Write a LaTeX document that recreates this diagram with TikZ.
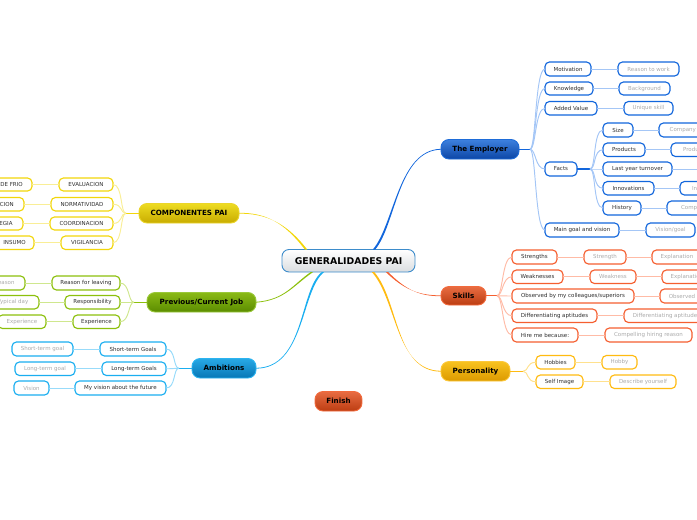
\documentclass[tikz,border=0pt]{standalone}
\usepackage{fontspec}
\setmainfont{DejaVu Sans}
\usetikzlibrary{calc}
\definecolor{empLine}{HTML}{1266DC}\definecolor{empLite}{HTML}{A4C6F6}\definecolor{empTop}{HTML}{3D80DE}\definecolor{empBot}{HTML}{0C46A6}\definecolor{empRim}{HTML}{1E6CD8}
\definecolor{sklLine}{HTML}{F55F30}\definecolor{sklLite}{HTML}{FFBBA6}\definecolor{sklTop}{HTML}{E86C42}\definecolor{sklBot}{HTML}{BC3D12}\definecolor{sklRim}{HTML}{F26A3C}
\definecolor{perLine}{HTML}{FFBB11}\definecolor{perLite}{HTML}{FFE18E}\definecolor{perTop}{HTML}{F8C21F}\definecolor{perBot}{HTML}{DC9A00}\definecolor{perRim}{HTML}{FCC83A}
\definecolor{comLine}{HTML}{F2D60A}\definecolor{comLite}{HTML}{F9EE96}\definecolor{comTop}{HTML}{EEDC22}\definecolor{comBot}{HTML}{C8AC00}\definecolor{comRim}{HTML}{EBD52A}
\definecolor{preLine}{HTML}{8CC00C}\definecolor{preLite}{HTML}{CFE78E}\definecolor{preTop}{HTML}{8ABA16}\definecolor{preBot}{HTML}{5B8C00}\definecolor{preRim}{HTML}{9AC83A}
\definecolor{ambLine}{HTML}{1AAEF0}\definecolor{ambLite}{HTML}{98DBFA}\definecolor{ambTop}{HTML}{28A9E6}\definecolor{ambBot}{HTML}{0777B6}\definecolor{ambRim}{HTML}{2CB4F0}
\definecolor{rootLine}{HTML}{3D8CCB}\definecolor{rootBot}{HTML}{DADDE0}
\definecolor{kidText}{HTML}{2E2E2E}\definecolor{noteText}{HTML}{ABABAB}
\tikzset{
  boxbase/.style={rectangle,inner sep=0pt,outer sep=0pt,align=center},
  leafbase/.style={boxbase,rounded corners=4.5pt,line width=1.15pt,fill=white,font=\fontsize{5.5}{6}\selectfont},
  kid/.style={leafbase,draw=#1Line,text=kidText},
  note/.style={leafbase,draw=#1Line,text=noteText},
  mainbox/.style={boxbase,rounded corners=8pt,line width=0.9pt,draw=#1Rim,top color=#1Top,bottom color=#1Bot,text=black,font=\fontsize{7.15}{8}\selectfont\bfseries},
  rootbox/.style={boxbase,rounded corners=7pt,line width=0.9pt,draw=rootLine,top color=white,bottom color=rootBot,text=black,font=\fontsize{9.3}{10}\selectfont\bfseries},
  stubline/.style={line width=1.2pt,draw=#1Line},
  liteline/.style={line width=0.95pt,draw=#1Lite},
}
\newcommand{\mapbox}[7]{%
  \pgfmathsetmacro\mbcx{(#3+#5)/2}\pgfmathsetmacro\mbcy{(#4+#6)/2}%
  \pgfmathsetmacro\mbw{#5-#3}\pgfmathsetmacro\mbh{#6-#4}%
  \node[#2,minimum width=\mbw pt,minimum height=\mbh pt] (#1) at (\mbcx,\mbcy) {#7};}
% fan from parent to children, to the right / left
\newcommand{\fanR}[4]{\draw[stubline=#1] (#2.east) -- ++(#4,0) coordinate (#2-j);
  \foreach \kidname in {#3} {\draw[liteline=#1] (#2-j) .. controls +(6,0) and +(-10,0) .. (\kidname.west);}}
\newcommand{\fanL}[4]{\draw[stubline=#1] (#2.west) -- ++(-#4,0) coordinate (#2-j);
  \foreach \kidname in {#3} {\draw[liteline=#1] (#2-j) .. controls +(-6,0) and +(10,0) .. (\kidname.east);}}
\newcommand{\linkR}[3]{\draw[liteline=#1] (#2.east) -- (#3.west);}
\newcommand{\linkL}[3]{\draw[liteline=#1] (#2.west) -- (#3.east);}
% tapered branch from the centre
\newcommand{\taper}[5]{\fill[#1Line] ($(#2)+(-1.2,0)$) .. controls ($(#3)+(-0.9,0)$) and ($(#4)+(0,-0.4)$) .. ($(#5)+(0,-0.4)$) -- ($(#5)+(0,0.4)$) .. controls ($(#4)+(0,0.4)$) and ($(#3)+(0.9,0)$) .. ($(#2)+(1.2,0)$) -- cycle;}
\begin{document}
\begin{tikzpicture}[x=1pt,y=-1pt]
\clip (0,0) rectangle (697,520);
% centre and main topics
\mapbox{root}{rootbox}{282}{249.5}{415}{272}{GENERALIDADES PAI}
\mapbox{emp}{mainbox=emp}{441}{139.5}{519}{159}{The Employer}
\mapbox{skl}{mainbox=skl}{441}{286.5}{486}{305}{Skills}
\mapbox{per}{mainbox=per}{441}{361.5}{510}{381}{Personality}
\mapbox{com}{mainbox=com}{139}{203.5}{239}{223}{COMPONENTES PAI}
\mapbox{pre}{mainbox=pre}{147}{292.5}{256}{312}{Previous/Current Job}
\mapbox{amb}{mainbox=amb}{192}{358.5}{256}{378}{Ambitions}
\mapbox{fin}{mainbox=skl}{315}{391.5}{362}{411}{Finish}
% The Employer
\mapbox{mot}{kid=emp}{545}{62}{591}{76}{Motivation}
\mapbox{motn}{note=emp}{618}{62}{679}{76}{Reason to work}
\mapbox{kno}{kid=emp}{545}{82}{593}{95}{Knowledge}
\mapbox{knon}{note=emp}{619}{82}{670}{95}{Background}
\mapbox{add}{kid=emp}{545}{101.5}{597}{115}{Added Value}
\mapbox{addn}{note=emp}{624}{101.5}{673}{115}{Unique skill}
\mapbox{fac}{kid=emp}{545}{162}{577}{176}{Facts}
\mapbox{gol}{kid=emp}{545}{223}{619}{237}{Main goal and vision}
\mapbox{goln}{note=emp}{646}{223}{695}{237}{Vision/goal}
\mapbox{siz}{kid=emp}{603}{123}{633}{137}{Size}
\mapbox{sizn}{note=emp}{659}{123}{719}{137}{Company size}
\mapbox{prd}{kid=emp}{603}{143}{645}{156.5}{Products}
\mapbox{prdn}{note=emp}{671}{143}{716}{156.5}{Product}
\mapbox{lst}{kid=emp}{603}{162}{672}{176}{Last year turnover}
\coordinate (lstn) at (710,169);
\mapbox{inn}{kid=emp}{603}{181.5}{654}{195}{Innovations}
\mapbox{innn}{note=emp}{680}{181.5}{736}{195}{Innovations}
\mapbox{his}{kid=emp}{603}{201}{641}{215}{History}
\mapbox{hisn}{note=emp}{667}{201}{742}{215}{Company history}
% Skills
\mapbox{str}{kid=skl}{512}{250}{557}{264}{Strengths}
\mapbox{strn}{note=skl}{584}{250}{626}{264}{Strength}
\mapbox{stre}{note=skl}{652}{250}{702}{264}{Explanation}
\mapbox{wea}{kid=skl}{512}{270}{563}{283.5}{Weaknesses}
\mapbox{wean}{note=skl}{590}{270}{636}{283.5}{Weakness}
\mapbox{weae}{note=skl}{662}{270}{712}{283.5}{Explanation}
\mapbox{obs}{kid=skl}{512}{289}{634}{303}{Observed by my colleagues/superiors}
\mapbox{obsn}{note=skl}{660}{289}{704}{303}{Observed}
\mapbox{dif}{kid=skl}{512}{309}{597}{322.5}{Differentiating aptitudes}
\mapbox{difn}{note=skl}{624}{309}{709}{322.5}{Differentiating aptitudes}
\mapbox{hir}{kid=skl}{512}{328}{578}{342}{Hire me because:}
\mapbox{hirn}{note=skl}{605}{328}{692}{342}{Compelling hiring reason}
% Personality
\mapbox{hob}{kid=per}{536}{355.5}{575}{369}{Hobbies}
\mapbox{hobn}{note=per}{602}{355.5}{637}{369}{Hobby}
\mapbox{sel}{kid=per}{536}{375}{583}{388.5}{Self Image}
\mapbox{seln}{note=per}{610}{375}{676}{388.5}{Describe yourself}
% COMPONENTES PAI
\mapbox{eva}{kid=com}{59}{178}{113}{191}{EVALUACION}
\mapbox{evan}{kid=com}{-9}{178}{32}{191}{DE FRIO}
\mapbox{nor}{kid=com}{51}{197.5}{113}{211}{NORMATIVIDAD}
\mapbox{norn}{kid=com}{-14}{197.5}{24}{211}{ACION}
\mapbox{coo}{kid=com}{50}{217}{113}{230}{COORDINACION}
\mapbox{coon}{kid=com}{-11}{217}{23}{230}{EGIA}
\mapbox{vig}{kid=com}{61}{236}{113}{249.5}{VIGILANCIA}
\mapbox{vign}{kid=com}{-5}{236}{34}{249.5}{INSUMO}
% Previous/Current Job
\mapbox{rea}{kid=pre}{52}{276}{120}{290}{Reason for leaving}
\mapbox{rean}{note=pre}{-16}{276}{25}{290}{Reason}
\mapbox{res}{kid=pre}{65}{295.5}{120}{309}{Responsibility}
\mapbox{resn}{note=pre}{-13}{295.5}{39}{309}{Typical day}
\mapbox{exp}{kid=pre}{73}{315}{120}{328.5}{Experience}
\mapbox{expn}{note=pre}{-2}{315}{46}{328.5}{Experience}
% Ambitions
\mapbox{sho}{kid=amb}{100}{342}{166}{356}{Short-term Goals}
\mapbox{shon}{note=amb}{12}{342}{73}{356}{Short-term goal}
\mapbox{lon}{kid=amb}{102}{362}{166}{375.5}{Long-term Goals}
\mapbox{lonn}{note=amb}{15}{362}{75}{375.5}{Long-term goal}
\mapbox{vis}{kid=amb}{75}{381}{166}{395}{My vision about the future}
\mapbox{visn}{note=amb}{14}{381}{49}{395}{Vision}
% branches from the centre
\coordinate (rootE) at (374,249.5);
\coordinate (rootS) at (387,272);
\coordinate (rootP) at (373,272);
\coordinate (rootC) at (306,249.5);
\coordinate (rootJ) at (312,272);
\coordinate (rootA) at (323,272);
\taper{emp}{rootE}{395,225}{398,150}{emp.west}
\taper{skl}{rootS}{405,290}{420,296}{skl.west}
\taper{per}{rootP}{398,300}{395,371}{per.west}
\taper{com}{rootC}{285,222}{265,213}{com.east}
\taper{pre}{rootJ}{293,285}{285,300}{pre.east}
\taper{amb}{rootA}{300,290}{305,368}{amb.east}
% fans
\fanR{emp}{emp}{mot,kno,add,fac,gol}{11}
\fanR{emp}{fac}{siz,prd,lst,inn,his}{13}
\fanR{skl}{skl}{str,wea,obs,dif,hir}{11}
\fanR{per}{per}{hob,sel}{13}
\fanL{com}{com}{eva,nor,coo,vig}{13}
\fanL{pre}{pre}{rea,res,exp}{13}
\fanL{amb}{amb}{sho,lon,vis}{13}
% leaf links
\linkR{emp}{mot}{motn}\linkR{emp}{kno}{knon}\linkR{emp}{add}{addn}\linkR{emp}{gol}{goln}
\linkR{emp}{siz}{sizn}\linkR{emp}{prd}{prdn}\linkR{emp}{lst}{lstn}\linkR{emp}{inn}{innn}\linkR{emp}{his}{hisn}
\linkR{skl}{str}{strn}\linkR{skl}{strn}{stre}\linkR{skl}{wea}{wean}\linkR{skl}{wean}{weae}
\linkR{skl}{obs}{obsn}\linkR{skl}{dif}{difn}\linkR{skl}{hir}{hirn}
\linkR{per}{hob}{hobn}\linkR{per}{sel}{seln}
\linkL{com}{eva}{evan}\linkL{com}{nor}{norn}\linkL{com}{coo}{coon}\linkL{com}{vig}{vign}
\linkL{pre}{rea}{rean}\linkL{pre}{res}{resn}\linkL{pre}{exp}{expn}
\linkL{amb}{sho}{shon}\linkL{amb}{lon}{lonn}\linkL{amb}{vis}{visn}
\end{tikzpicture}
\end{document}
